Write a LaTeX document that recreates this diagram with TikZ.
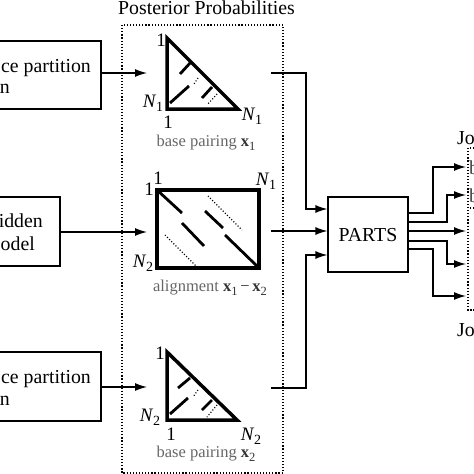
\documentclass[tikz,border=0pt]{standalone}
\usepackage{fontspec}
\setmainfont{Liberation Serif}
\usetikzlibrary{arrows.meta}
\newcommand{\Nsb}[1]{\textit{N}\kern-0.5pt\raisebox{-0.45ex}{\fontsize{14}{14}\selectfont #1}}
\newcommand{\xsb}[1]{\textcolor{black!80}{\textbf{x}\raisebox{-0.45ex}{\fontsize{12.5}{12.5}\selectfont #1}}}
\begin{document}
\begin{tikzpicture}[x=1pt,y=-1pt,
  box/.style={draw, line width=1.2pt, inner sep=0pt},
  conn/.style={line width=1.3pt},
  arr/.style={conn, -{Latex[length=12pt,width=8pt]}},
  mat/.style={line width=3.5pt, line join=miter},
  helix/.style={line width=2.8pt},
  dotl/.style={line width=1.2pt, dash pattern=on 1pt off 2pt},
  dotbox/.style={line width=1.3pt, dash pattern=on 1.2pt off 1.9pt},
  lab/.style={font=\fontsize{19}{20}\selectfont, inner sep=0pt},
  captxt/.style={font=\fontsize{16.5}{18}\selectfont, text=black!60, inner sep=0pt},
  txt/.style={font=\fontsize{19.8}{22}\selectfont, inner sep=0pt}]
\useasboundingbox (0,0) rectangle (474,474);
\clip (0,0) rectangle (474,474);

% title and dotted frame
\node[txt, anchor=base] (title) at (206.5,14) {Posterior Probabilities};
\draw[dotbox] (122,25) rectangle (283,473);

% left boxes
\node[box, minimum width=111pt, minimum height=68pt] (sp1) at (45.5,75) {};
\node[txt, anchor=base east] (sp1a) at (91,72) {ce partition};
\node[txt, anchor=base east] (sp1b) at (10,93) {n};
\node[box, minimum width=70pt, minimum height=69pt] (hmm) at (25,231.5) {};
\node[txt, anchor=base east] (hmma) at (43,227) {idden};
\node[txt, anchor=base east] (hmmb) at (35,250) {odel};
\node[box, minimum width=111pt, minimum height=69pt] (sp2) at (45.5,386.5) {};
\node[txt, anchor=base east] (sp2a) at (91,383) {ce partition};
\node[txt, anchor=base east] (sp2b) at (10,405) {n};

% arrows into matrices
\coordinate (in1) at (147,73);
\coordinate (in2) at (147,232);
\coordinate (in3) at (147,387);
\draw[arr] (sp1.east |- in1) -- (in1);
\draw[arr] (hmm.east |- in2) -- (in2);
\draw[arr] (sp2.east |- in3) -- (in3);

% top triangle
\draw[mat] (167,38) -- (167,109) -- (238,109) -- cycle;
\draw[helix] (191,62) -- (180,74);
\draw[helix] (212,87) -- (202,98);
\draw[helix] (189,86) -- (170,103);
\draw[dotl] (198,78) -- (194,84);
\draw[dotl] (217,94) -- (207,105);
\node[lab] (t1a) at (161,40) {1};
\node[lab] (t1b) at (153,103) {\Nsb{1}};
\node[lab] (t1c) at (168,122) {1};
\node[lab] (t1d) at (252,116) {\Nsb{1}};
\node[captxt] (t1cap) at (206,143) {base pairing \xsb{1}};

% middle rectangle
\draw[mat] (157,190) rectangle (259,268);
\draw[helix] (157,190) -- (182,213);
\draw[helix] (182,223) -- (204,246);
\draw[helix] (205,211) -- (223,228);
\draw[helix] (225,235) -- (259,268);
\draw[dotl] (208,196) -- (242,230);
\draw[dotl] (165,235) -- (198,268);
\node[lab] (r1a) at (149,189) {1};
\node[lab] (r1b) at (158,178) {1};
\node[lab] (r1c) at (266,181) {\Nsb{1}};
\node[lab] (r1d) at (143,263) {\Nsb{2}};
\node[captxt] (r1cap) at (210,288) {alignment \xsb{1}\,\textcolor{black!80}{\char"2212}\,\xsb{2}};

% bottom triangle
\draw[mat] (167,352) -- (167,420) -- (237,420) -- cycle;
\draw[helix] (190,378) -- (178,388);
\draw[helix] (212,400) -- (202,410);
\draw[helix] (188,398) -- (170,414);
\draw[dotl] (198,390) -- (193,397);
\draw[dotl] (217,405) -- (207,417);
\node[lab] (t2a) at (160,353) {1};
\node[lab] (t2b) at (150,417) {\Nsb{2}};
\node[lab] (t2c) at (171,434) {1};
\node[lab] (t2d) at (251,436) {\Nsb{2}};
\node[captxt] (t2cap) at (206,454) {base pairing \xsb{2}};

% PARTS
\node[box, minimum width=80pt, minimum height=75pt] (parts) at (368,234.5) {};
\node[txt] (partst) at (368,235) {PARTS};

\coordinate (o1) at (271,73);
\coordinate (o2) at (271,231);
\coordinate (o3) at (271,388);
\draw[arr] (o1) -- (306,73) |- ([yshift=25.5pt]parts.west);
\draw[arr] (o2) -- ([yshift=3.5pt]parts.west);
\draw[arr] (o3) -- (306,388) |- ([yshift=-20.5pt]parts.west);

% outputs
\coordinate (j1) at (466,167);
\coordinate (j2) at (466,195);
\coordinate (j3) at (466,231);
\coordinate (j4) at (466,264);
\coordinate (j5) at (466,296);
\draw[arr] ([yshift=21.5pt]parts.east) -- (433,213) |- (j1);
\draw[arr] ([yshift=12.5pt]parts.east) -- (447,222) |- (j2);
\draw[arr] ([yshift=3.5pt]parts.east) -- (j3);
\draw[arr] ([yshift=-6.5pt]parts.east) -- (447,241) |- (j4);
\draw[arr] ([yshift=-14.5pt]parts.east) -- (433,249) |- (j5);

% right side
\draw[dotbox] (468,148) rectangle (495,310);
\draw[dotl] (470,208) -- (480,208);
\node[txt, anchor=base west] (jo1) at (457,144) {Jo};
\node[txt, anchor=base west] (jo2) at (457,336) {Jo};
\node[txt, anchor=base west, text=black!75] (b1) at (469,174) {b};
\node[txt, anchor=base west, text=black!75] (b2) at (469,202) {b};
\end{tikzpicture}
\end{document}
